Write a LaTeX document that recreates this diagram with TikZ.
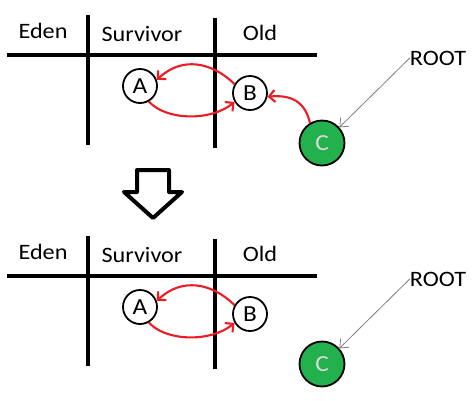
\documentclass[tikz,border=0pt]{standalone}
\usepackage{fontspec}
\setmainfont{Carlito}[FakeStretch=1.1]
\usetikzlibrary{arrows.meta}
\definecolor{pred}{HTML}{ED1C24}
\definecolor{pgreen}{HTML}{22B14C}
\tikzset{
 wall/.style={line width=4pt},
 lbl/.style={font=\fontsize{22}{24}\selectfont, inner sep=0pt},
 obj/.style={circle, draw, line width=1.8pt, minimum size=34pt, inner sep=0pt, font=\fontsize{23}{25}\selectfont, fill=white},
 rootobj/.style={obj, fill=pgreen, minimum size=45pt, text=gray!30},
 ref/.style={pred, line width=2.1pt, -{Straight Barb[length=6pt,width=12pt]}},
 rootarrow/.style={gray, line width=0.8pt, -{Straight Barb[length=7pt,width=12pt]}},
 bigarrow/.style={line width=4pt, line join=round, fill=white}
}
\begin{document}
\begin{tikzpicture}[x=1pt,y=-1pt]
\useasboundingbox (0,0) rectangle (474,400);
\fill[white] (0,0) rectangle (474,400);
\foreach \s/\dy in {t/0,b/221}{
 \begin{scope}[yshift=-\dy pt]
  \draw[wall] (7,55) -- (317,55);
  \draw[wall] (88,15) -- (88,145);
  \draw[wall] (215,18) -- (215,148);
  \node[lbl] (eden\s) at (43,31) {Eden};
  \node[lbl] (surv\s) at (142,34) {Survivor};
  \node[lbl] (old\s) at (260,33) {Old};
  \node[lbl] (root\s) at (438,58) {ROOT};
  \node[obj] (A\s) at (140,86) {A};
  \node[obj] (B\s) at (250,93) {B};
  \node[rootobj] (C\s) at (322,143) {C};
  \draw[ref] (B\s.150) .. controls (212,62) and (182,56) .. (A\s.20);
  \draw[ref] (A\s.-60) .. controls (165,120) and (210,122) .. (B\s.-150);
  \draw[rootarrow] (root\s.west) -- (C\s.42);
 \end{scope}
}
\draw[ref] (Ct.121) .. controls (306,106) and (296,94) .. (Bt.-12);
\draw[bigarrow] (137,170) -- (169,170) -- (169,192) -- (182,192) -- (153,218) -- (124,192) -- (137,192) -- cycle;
\end{tikzpicture}
\end{document}
